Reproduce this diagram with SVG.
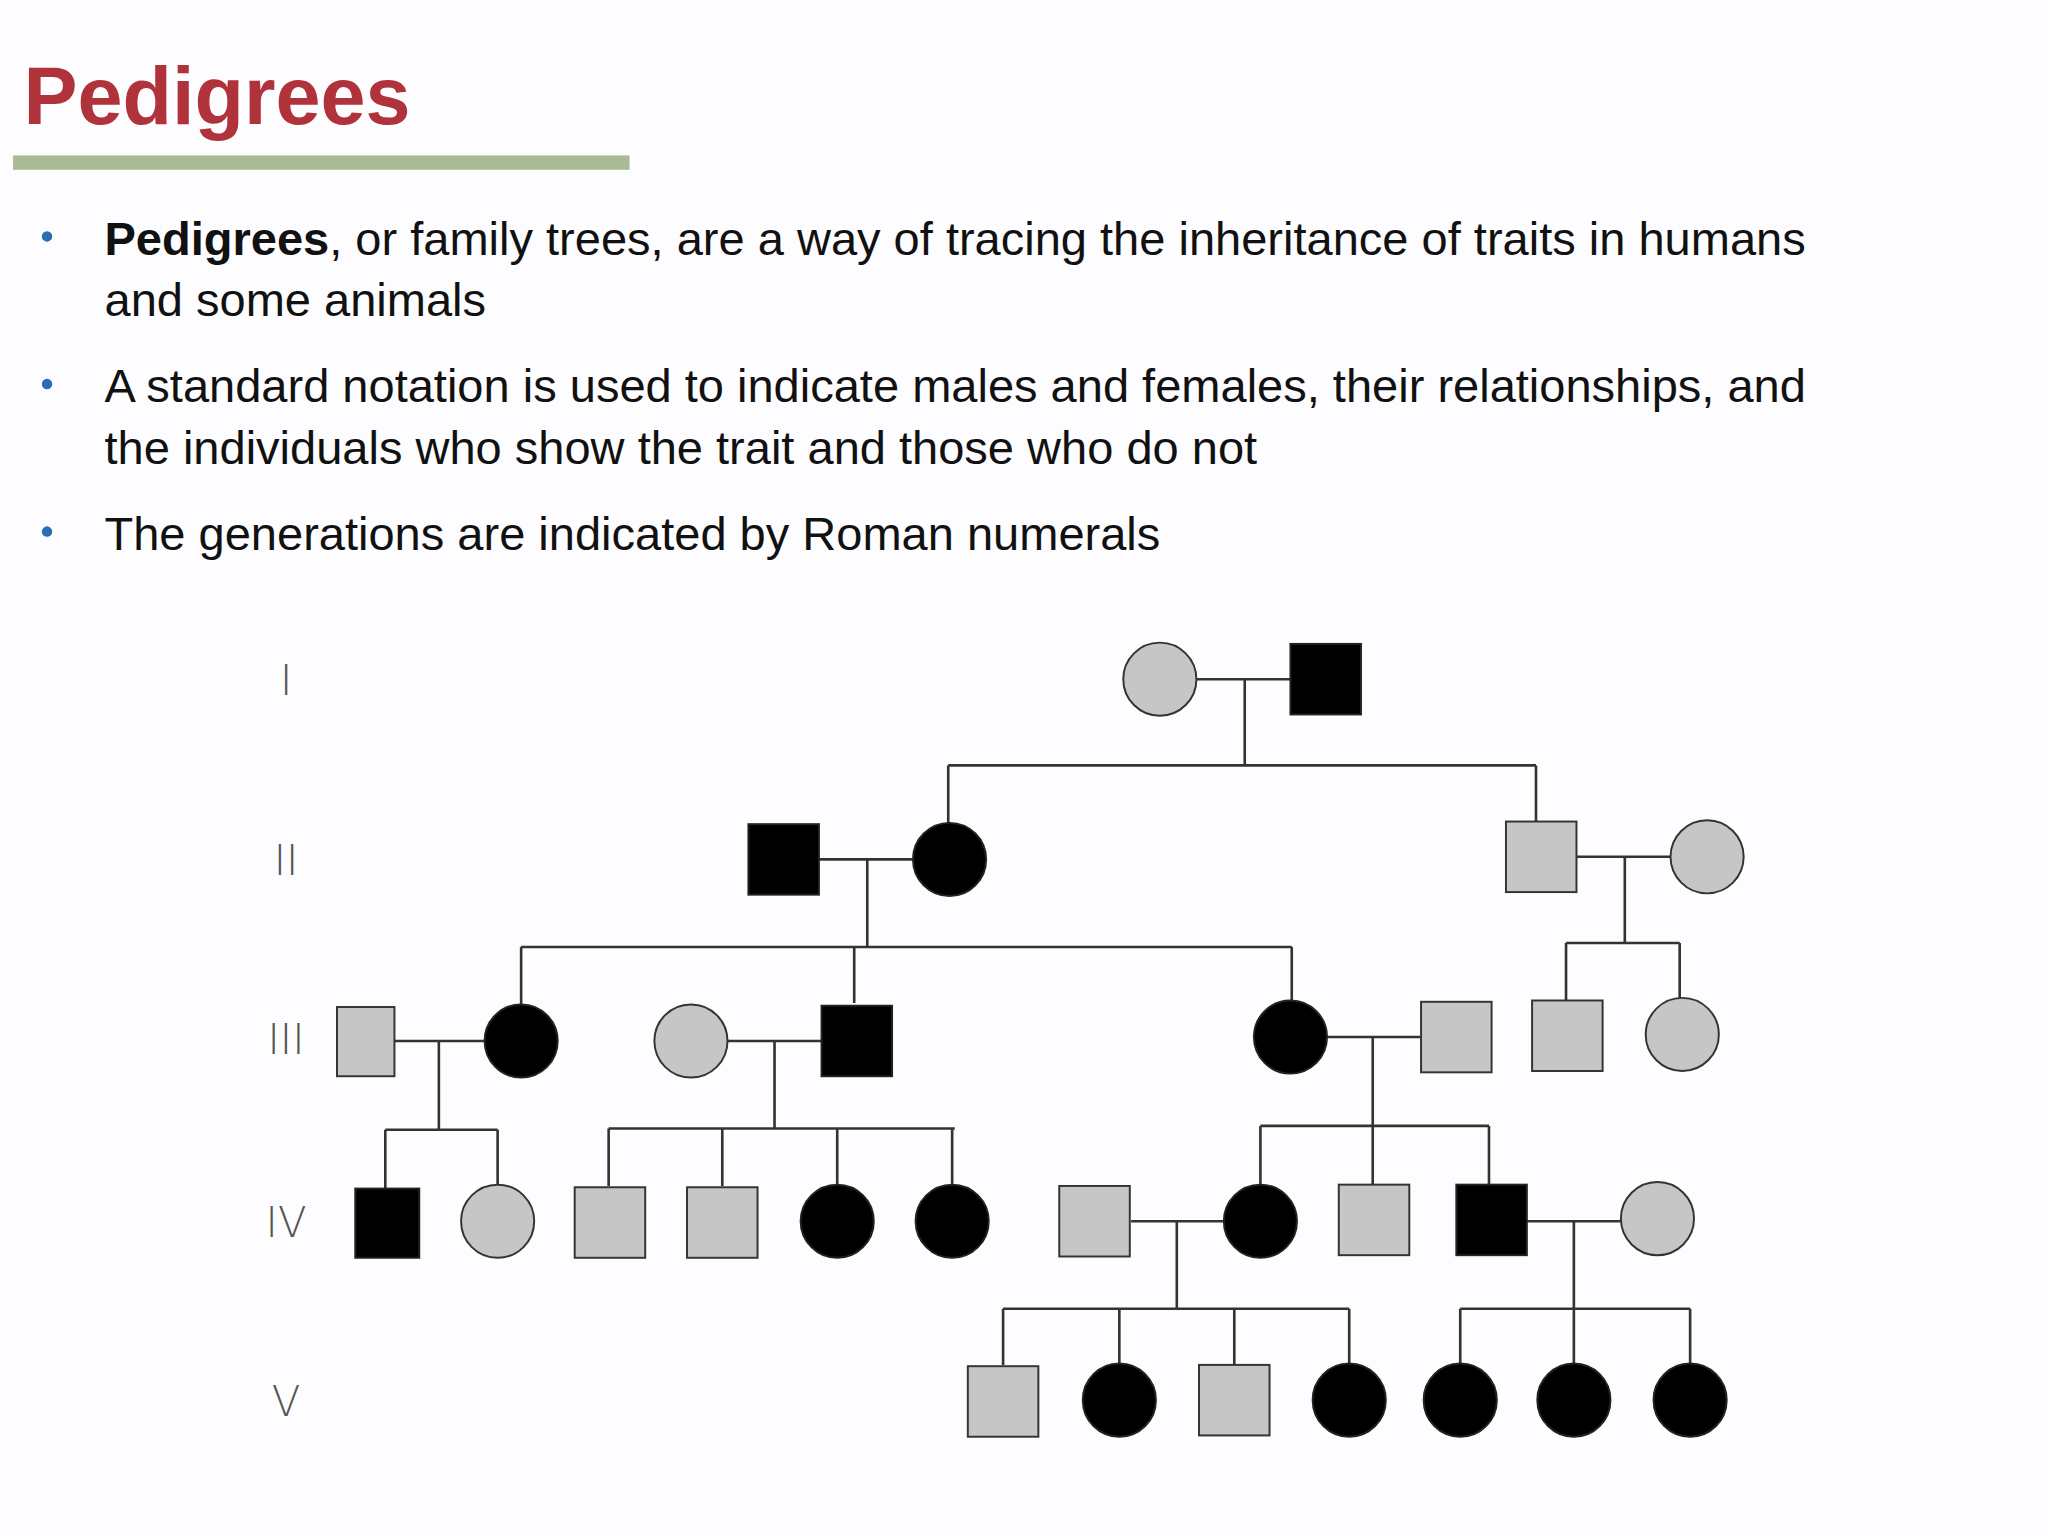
<svg xmlns="http://www.w3.org/2000/svg" width="2048" height="1536" viewBox="0 0 2048 1536">
<style>
.g{fill:#c6c6c6;stroke:#333;stroke-width:1.5}
.b{fill:#000;stroke:#222;stroke-width:1.5}
.ln{stroke:#333;stroke-width:2;fill:none}
.t{font-family:"Liberation Sans",Arial,sans-serif;font-size:36px;fill:#111}
.r{font-family:"DejaVu Sans",sans-serif;font-size:32px;fill:#555;text-anchor:middle;font-weight:200}
.d{fill:#2a6db5}
</style>
<rect width="2048" height="1536" fill="#fdfcfe"/>
<g transform="scale(1.30612)">
<text x="18" y="95" font-family="Liberation Sans,Arial,sans-serif" font-size="62" font-weight="bold" fill="#b0323a">Pedigrees</text>
<rect x="10" y="119" width="472" height="11" fill="#a8bb94"/>
<circle class="d" cx="36" cy="181" r="4"/><circle class="d" cx="36" cy="294" r="4"/><circle class="d" cx="36" cy="407" r="4"/>
<text class="t" x="80" y="195"><tspan font-weight="bold">Pedigrees</tspan>, or family trees, are a way of tracing the inheritance of traits in humans</text>
<text class="t" x="80" y="242">and some animals</text>
<text class="t" x="80" y="308">A standard notation is used to indicate males and females, their relationships, and</text>
<text class="t" x="80" y="355">the individuals who show the trait and those who do not</text>
<text class="t" x="80" y="421">The generations are indicated by Roman numerals</text>
<g id="labels">
<text class="r" x="219" y="532">I</text><text class="r" x="219" y="670">II</text><text class="r" x="219" y="807">III</text><text class="r" x="219" y="947">IV</text><text class="r" x="219" y="1084">V</text>
</g>
<g id="connectors" class="ln">
<path d="M916 520H988M953 520V586M726 586H1176M726 586V631M1176 586V630"/>
<path d="M627 658H699M664 658V725M399 725H989M399 725V770M654 725V768M989 725V767"/>
<path d="M1207 656H1279M1244 656V722M1199 722H1286M1199 722V766M1286 722V766"/>
<path d="M302 797H371M336 797V865M295 865H381M295 865V910M381 865V908"/>
<path d="M557 797H629M593 797V864M466 864H731M466 864V908M553 864V908M641 864V908M729 864V908"/>
<path d="M1016 794H1088M1051 794V862M965 862H1140M965 862V907M1051 862V907M1140 862V907"/>
<path d="M866 935H937M901 935V1002M768 1002H1033M768 1002V1045M857 1002V1045M945 1002V1045M1033 1002V1045"/>
<path d="M1169 935H1241M1205 935V1002M1118 1002H1294M1118 1002V1045M1205 1002V1045M1294 1002V1045"/>
</g>
<g id="gen1"><circle class="g" cx="888" cy="520" r="28"/><rect class="b" x="988" y="493" width="54" height="54"/></g>
<g id="gen2"><rect class="b" x="573" y="631" width="54" height="54"/><circle class="b" cx="727" cy="658" r="28"/><rect class="g" x="1153" y="629" width="54" height="54"/><circle class="g" cx="1307" cy="656" r="28"/></g>
<g id="gen3"><rect class="g" x="258" y="771" width="44" height="53"/><circle class="b" cx="399" cy="797" r="28"/><circle class="g" cx="529" cy="797" r="28"/><rect class="b" x="629" y="770" width="54" height="54"/><circle class="b" cx="988" cy="794" r="28"/><rect class="g" x="1088" y="767" width="54" height="54"/><rect class="g" x="1173" y="766" width="54" height="54"/><circle class="g" cx="1288" cy="792" r="28"/></g>
<g id="gen4"><rect class="b" x="272" y="910" width="49" height="53"/><circle class="g" cx="381" cy="935" r="28"/><rect class="g" x="440" y="909" width="54" height="54"/><rect class="g" x="526" y="909" width="54" height="54"/><circle class="b" cx="641" cy="935" r="28"/><circle class="b" cx="729" cy="935" r="28"/><rect class="g" x="811" y="908" width="54" height="54"/><circle class="b" cx="965" cy="935" r="28"/><rect class="g" x="1025" y="907" width="54" height="54"/><rect class="b" x="1115" y="907" width="54" height="54"/><circle class="g" cx="1269" cy="933" r="28"/></g>
<g id="gen5"><rect class="g" x="741" y="1046" width="54" height="54"/><circle class="b" cx="857" cy="1072" r="28"/><rect class="g" x="918" y="1045" width="54" height="54"/><circle class="b" cx="1033" cy="1072" r="28"/><circle class="b" cx="1118" cy="1072" r="28"/><circle class="b" cx="1205" cy="1072" r="28"/><circle class="b" cx="1294" cy="1072" r="28"/></g>
</g>
</svg>
